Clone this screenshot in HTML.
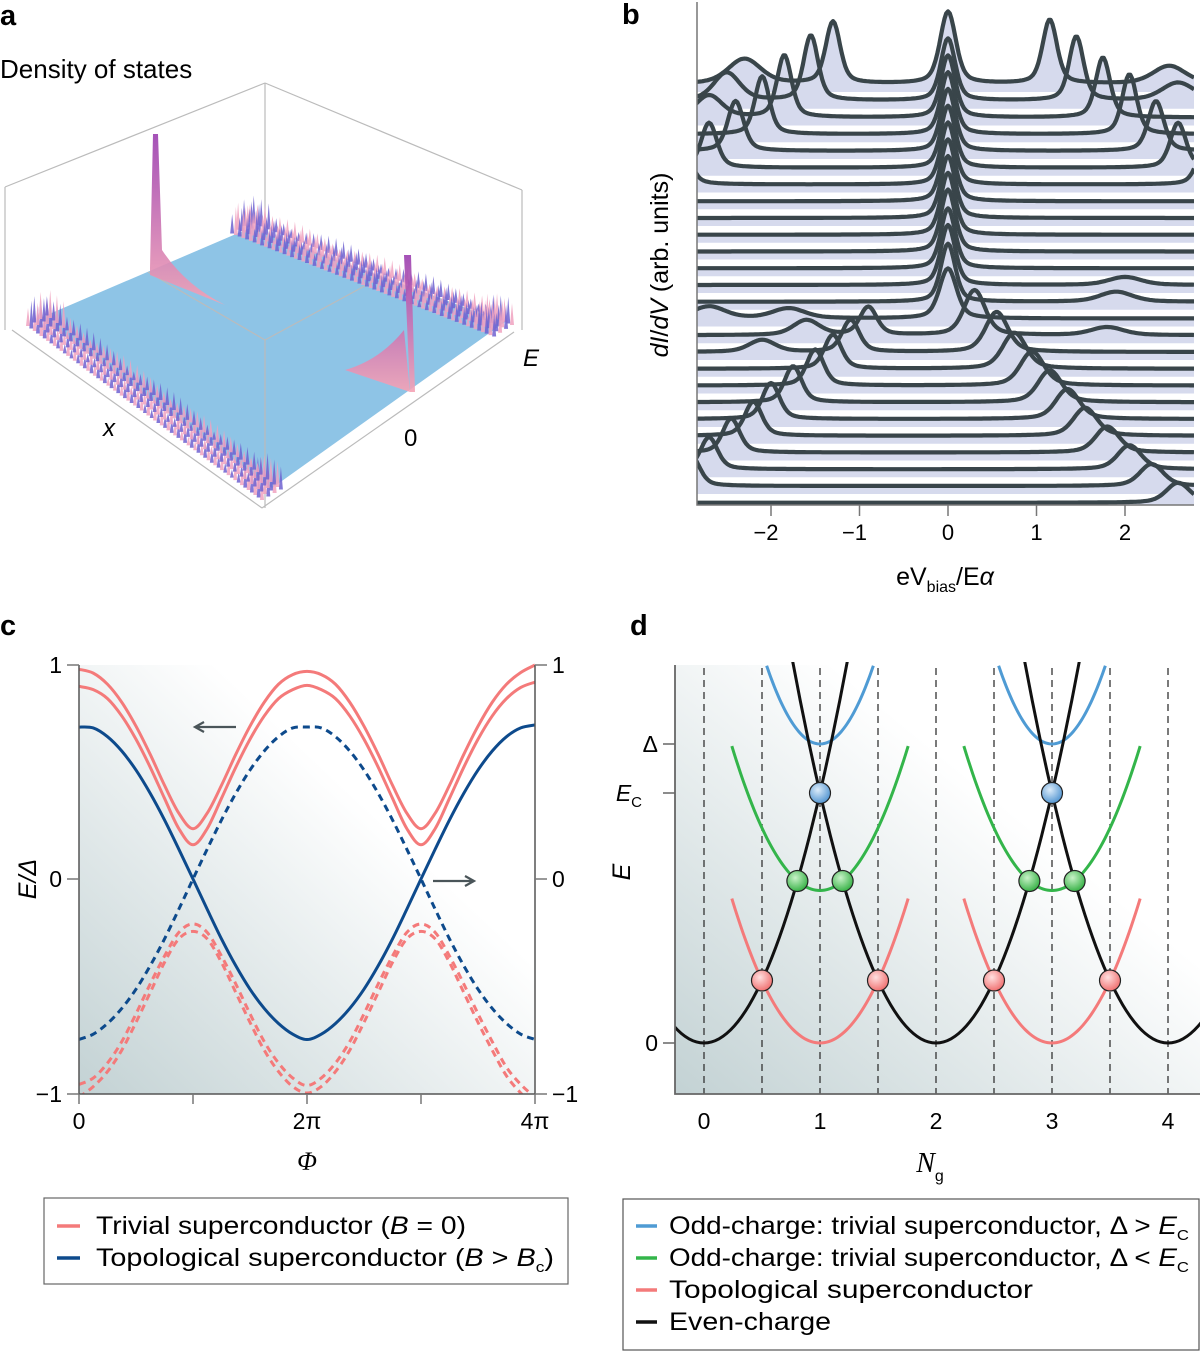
<!DOCTYPE html>
<html><head><meta charset="utf-8"><style>
html,body{margin:0;padding:0;background:#fff;}
svg{display:block;font-family:"Liberation Sans",sans-serif;}
</style></head><body>
<svg id="fig" width="1200" height="1351" viewBox="0 0 1200 1351" xmlns="http://www.w3.org/2000/svg">
<defs>
<linearGradient id="bgC" x1="0" y1="1" x2="1" y2="0">
<stop offset="0" stop-color="#c3d2d4"/><stop offset="0.65" stop-color="#ffffff"/></linearGradient>
<radialGradient id="gRed" cx="0.4" cy="0.35" r="0.7"><stop offset="0" stop-color="#ffe0e0"/><stop offset="1" stop-color="#f06a6a"/></radialGradient>
<radialGradient id="gGreen" cx="0.4" cy="0.35" r="0.7"><stop offset="0" stop-color="#c8f2c8"/><stop offset="1" stop-color="#2fae3f"/></radialGradient>
<radialGradient id="gBlue" cx="0.4" cy="0.35" r="0.7"><stop offset="0" stop-color="#dcecfa"/><stop offset="1" stop-color="#4a90cf"/></radialGradient>
<linearGradient id="spikeL" x1="0" y1="0" x2="0" y2="1"><stop offset="0" stop-color="#9b3fb0"/><stop offset="1" stop-color="#f5a3b5"/></linearGradient>
<clipPath id="clipB"><rect x="697" y="0" width="497" height="505"/></clipPath>
<clipPath id="clipC"><rect x="79" y="660" width="456" height="434"/></clipPath>
<clipPath id="clipD"><rect x="675" y="662" width="525" height="432"/></clipPath>
</defs>

<!-- Panel a -->
<text x="0" y="25" font-size="29" font-weight="bold">a</text>
<text x="0" y="78" font-size="26">Density of states</text>
<g id="panelA"></g>
<text x="103" y="436" font-size="24" font-style="italic">x</text>
<text x="404" y="446" font-size="24">0</text>
<text x="523" y="366" font-size="24" font-style="italic">E</text>

<!-- Panel b -->
<text x="622" y="24" font-size="29" font-weight="bold">b</text>
<g id="panelB"></g>
<text transform="translate(668,265) rotate(-90)" text-anchor="middle" font-size="25"><tspan font-style="italic">dI</tspan>/<tspan font-style="italic">dV</tspan> (arb. units)</text>
<text x="945" y="585" text-anchor="middle" font-size="25">eV<tspan font-size="16" dy="7">bias</tspan><tspan dy="-7">/E</tspan><tspan font-style="italic">α</tspan></text>

<!-- Panel c -->
<text x="0" y="635" font-size="29" font-weight="bold">c</text>
<g id="panelC"></g>
<text transform="translate(36,879) rotate(-90)" text-anchor="middle" font-size="25" font-style="italic">E/Δ</text>
<text x="307" y="1170" text-anchor="middle" font-size="26" font-style="italic" font-family="Liberation Serif, serif">Φ</text>

<!-- Panel d -->
<text x="630" y="635" font-size="29" font-weight="bold">d</text>
<g id="panelD"></g>
<text transform="translate(630,872) rotate(-90)" text-anchor="middle" font-size="25" font-style="italic">E</text>
<text x="930" y="1172" text-anchor="middle" font-size="28" font-style="italic" font-family="Liberation Serif, serif">N<tspan font-size="16" font-style="normal" font-family="Liberation Sans, sans-serif" dy="9">g</tspan></text>

<!-- Legend c -->
<g>
<rect x="44" y="1198" width="524" height="86" fill="#fff" stroke="#666" stroke-width="1.2"/>
<line x1="57" y1="1226" x2="80" y2="1226" stroke="#f47a7a" stroke-width="3.5"/>
<text x="96" y="1234" font-size="25" textLength="370" lengthAdjust="spacingAndGlyphs">Trivial superconductor (<tspan font-style="italic">B</tspan> = 0)</text>
<line x1="57" y1="1258" x2="80" y2="1258" stroke="#0d4a8c" stroke-width="3.5"/>
<text x="96" y="1266" font-size="25" textLength="458" lengthAdjust="spacingAndGlyphs">Topological superconductor (<tspan font-style="italic">B</tspan> &gt; <tspan font-style="italic">B</tspan><tspan font-size="15" dy="6">c</tspan><tspan dy="-6">)</tspan></text>
</g>

<!-- Legend d -->
<g>
<rect x="623" y="1199" width="576" height="151" fill="#fff" stroke="#555" stroke-width="1.2"/>
<line x1="636" y1="1226" x2="657" y2="1226" stroke="#4f9bd4" stroke-width="3.5"/>
<text x="669" y="1234" font-size="25" textLength="520" lengthAdjust="spacingAndGlyphs">Odd-charge: trivial superconductor, Δ &gt; <tspan font-style="italic">E</tspan><tspan font-size="15" dy="6">C</tspan></text>
<line x1="636" y1="1258" x2="657" y2="1258" stroke="#33b54a" stroke-width="3.5"/>
<text x="669" y="1266" font-size="25" textLength="520" lengthAdjust="spacingAndGlyphs">Odd-charge: trivial superconductor, Δ &lt; <tspan font-style="italic">E</tspan><tspan font-size="15" dy="6">C</tspan></text>
<line x1="636" y1="1290" x2="657" y2="1290" stroke="#f47a7a" stroke-width="3.5"/>
<text x="669" y="1298" font-size="25" textLength="364" lengthAdjust="spacingAndGlyphs">Topological superconductor</text>
<line x1="636" y1="1322" x2="657" y2="1322" stroke="#111" stroke-width="3.5"/>
<text x="669" y="1330" font-size="25" textLength="162" lengthAdjust="spacingAndGlyphs">Even-charge</text>
</g>
</svg>
<script>
// ---------- Panel b data ----------
const bRowsPos = [
 [-2.3,-1.3,0,1.15,2.5],[-2.5,-1.55,0,1.45,2.6],[-2.7,-1.85,0,1.75],[-2.1,0,2.05],[-2.4,0,2.35],[-2.7,0,2.6],[-3.0,0,2.9],
 [0],[0],[0],[0],[0],[0,2.0],[0,1.9],
 [-2.7,-1.8,0],[-1.6,-0.9,0.3,1.8],[-2.1,-1.1,0.55],[-1.3,0.75],[-1.5,0.95],[-1.75,1.15],[-2.0,1.35],[-2.2,1.55],[-2.45,1.8],[-2.7,2.05],[-2.9,2.3],[2.6]
];
const bRowsHeight = [
 [25,62,72,64,18],[28,65,62,64,18],[22,62,62,60],[58,62,60],[50,62,50],[45,62,45],[42,62,38],
 [62],[62],[62],[62],[60],[60,8],[58,10],
 [12,10,50],[15,28,45,8],[12,32,40],[34,36],[36,34],[36,32],[36,30],[34,28],[34,26],[32,24],[30,22],[20]
];
const bRowsWidth = [
 [0.25,0.11,0.12,0.11,0.25],[0.2,0.11,0.11,0.11,0.25],[0.2,0.11,0.11,0.11],[0.11,0.11,0.11],[0.12,0.11,0.12],[0.12,0.11,0.12],[0.12,0.11,0.12],
 [0.11],[0.11],[0.11],[0.11],[0.11],[0.11,0.25],[0.11,0.25],
 [0.25,0.25,0.13],[0.2,0.13,0.16,0.25],[0.2,0.13,0.17],[0.13,0.18],[0.13,0.18],[0.13,0.18],[0.13,0.18],[0.13,0.18],[0.13,0.18],[0.13,0.18],[0.13,0.18],[0.18]
];
const bTicks = [-2,-1,0,1,2];
const bTickLabels = ["−2","−1","0","1","2"];

// ---------- Panel c data (samples every π/8 from 0 to 4π) ----------
const cPhiSteps = [0,1,2,3,4,5,6,7,8,9,10,11,12,13,14,15,16,17,18,19,20,21,22,23,24,25,26,27,28,29,30,31,32];
const cRedOuter = [0.98,0.962,0.910,0.826,0.714,0.582,0.438,0.308,0.235,0.308,0.438,0.582,0.714,0.826,0.910,0.955,0.97,0.955,0.910,0.826,0.714,0.582,0.438,0.308,0.235,0.308,0.438,0.582,0.714,0.826,0.910,0.965,1.0];
const cRedInner = [0.90,0.885,0.843,0.762,0.653,0.522,0.377,0.236,0.16,0.236,0.377,0.522,0.653,0.762,0.843,0.885,0.905,0.885,0.843,0.762,0.653,0.522,0.377,0.236,0.16,0.236,0.377,0.522,0.653,0.762,0.843,0.895,0.92];
const cBlueSolid = [0.71,0.706,0.665,0.598,0.509,0.400,0.276,0.140,0,-0.142,-0.28,-0.405,-0.515,-0.605,-0.675,-0.725,-0.75,-0.725,-0.675,-0.605,-0.515,-0.405,-0.28,-0.142,0,0.140,0.276,0.400,0.509,0.598,0.665,0.706,0.72];
const cBlueDashed = [-0.75,-0.725,-0.675,-0.605,-0.515,-0.405,-0.28,-0.142,0,0.140,0.276,0.400,0.509,0.598,0.665,0.706,0.71,0.706,0.665,0.598,0.509,0.400,0.276,0.140,0,-0.142,-0.28,-0.405,-0.515,-0.605,-0.675,-0.725,-0.75];
const cRedDashUpper = [-0.96,-0.93,-0.86,-0.76,-0.63,-0.49,-0.36,-0.25,-0.21,-0.25,-0.36,-0.49,-0.63,-0.76,-0.86,-0.93,-0.965,-0.93,-0.86,-0.76,-0.63,-0.49,-0.36,-0.25,-0.21,-0.25,-0.36,-0.49,-0.63,-0.76,-0.88,-0.96,-1.02];
const cRedDashLower = [-1.02,-0.97,-0.9,-0.8,-0.67,-0.53,-0.39,-0.28,-0.245,-0.28,-0.39,-0.53,-0.67,-0.8,-0.9,-0.97,-1.0,-0.97,-0.9,-0.8,-0.67,-0.53,-0.39,-0.28,-0.245,-0.28,-0.39,-0.53,-0.67,-0.8,-0.92,-1.0,-1.06];
const cYTicks = [1,0,-1];
const cYTickLabels = ["1","0","−1"];
const cXTicks = [0,8,16,24,32];
const cXTickLabels = ["0","","2π","","4π"];

// ---------- Panel d data (energies in units of E_C) ----------
const dEvenCenters = [0,2,4];
const dOddCenters = [1,3];
const dCurv = 1.0;
const dBlueCurv = 1.48;
const dBlueMin = 1.196;
const dGreenMin = 0.61;
const dRedMin = 0;
const dHalfRange = 0.76;
const dBlueHalfRange = 0.46;
const dRedDots = [0.5,1.5,2.5,3.5];
const dGreenDots = [0.805,1.195,2.805,3.195];
const dBlueDots = [1,3];
const dVLines = [0,0.5,1,1.5,2,2.5,3,3.5,4];
const dXTicks = [0,1,2,3,4];
const dYTicks = [1.196,1,0];
const dYTickLabels = ["Δ","E","0"];

const NS = "http://www.w3.org/2000/svg";
function mk(parent, tag, attrs){ const e=document.createElementNS(NS,tag); for(const k in attrs) e.setAttribute(k,attrs[k]); parent.appendChild(e); return e; }
function smooth(pts){
  let d="M"+pts[0][0].toFixed(2)+","+pts[0][1].toFixed(2);
  for(let i=0;i<pts.length-1;i++){
    const p0=pts[Math.max(0,i-1)],p1=pts[i],p2=pts[i+1],p3=pts[Math.min(pts.length-1,i+2)];
    const c1=[p1[0]+(p2[0]-p0[0])/6,p1[1]+(p2[1]-p0[1])/6];
    const c2=[p2[0]-(p3[0]-p1[0])/6,p2[1]-(p3[1]-p1[1])/6];
    d+=" C"+c1[0].toFixed(2)+","+c1[1].toFixed(2)+" "+c2[0].toFixed(2)+","+c2[1].toFixed(2)+" "+p2[0].toFixed(2)+","+p2[1].toFixed(2);
  }
  return d;
}

// ---------- Panel a (decorative 3D) ----------
(function(){
  const g=document.getElementById('panelA');
  const ln=(x1,y1,x2,y2,nm)=>{const l=mk(g,'line',{x1,y1,x2,y2,stroke:'#bbb','stroke-width':1.2});
    
    };
  ln(5,187,265,83,'box-edge'); ln(265,83,522,190,'box-edge');
  ln(5,187,5,330,'box-edge'); ln(522,190,522,330,'box-edge'); ln(265,83,265,340,'box-edge');
  const floor=mk(g,'polygon',{points:'40,318 250,228 505,322 272,488',fill:'#8ec4e6'});
  
  
  ln(148,272,265,340,'box-edge'); ln(265,340,372,282,'box-edge'); ln(265,340,265,508,'box-edge');
  ln(12,330,262,508,'box-edge'); ln(262,508,514,332,'box-edge');
  const ridges=[[[28,326],[262,500],[0.9,-0.5]],[[250,222],[512,325],[-0.85,0.55]]];
  ridges.forEach((r,ri)=>{
    for(let row=0;row<4;row++){
      for(let i=0;i<=70;i++){
        const t=i/70;
        const bx=r[0][0]+(r[1][0]-r[0][0])*t+r[2][0]*row*7;
        const by=r[0][1]+(r[1][1]-r[0][1])*t+r[2][1]*row*7;
        const h=8+10*Math.abs(Math.sin(i*1.7+row))+(t<0.08||t>0.92?10:0);
        const p=mk(g,'polygon',{points:`${bx-2},${by} ${bx},${by-h} ${bx+2},${by}`,fill:(i+row)%2?'#6e62d0':'#f0a2bf',opacity:0.85});
        
        
      }
    }
  });
  const s1=mk(g,'path',{d:'M150,268 L153,134 L158,134 L162,250 Q185,285 225,305 L150,275 Z',fill:'url(#spikeL)',opacity:0.9});
  
  
  const s2=mk(g,'path',{d:'M410,392 L404,255 L411,255 L415,392 Z M404,330 Q380,360 345,370 L410,392 Z',fill:'url(#spikeL)',opacity:0.9});
  
  
})();

// ---------- Panel b ----------
(function(){
  const g=document.getElementById('panelB');
  const x0=948, sx=88.5, top=84, step=16.75;
  const xs=v=>x0+v*sx;
  const rowsG=mk(g,'g',{'clip-path':'url(#clipB)'});
  const fills=[], lines=[];
  bRowsPos.forEach((pos,r)=>{
    const base=top+r*step;
    const pts=[];
    for(let v=-2.86;v<=2.8;v+=0.02){
      let y=0;
      pos.forEach((p,k)=>{const w=bRowsWidth[r][k],h=bRowsHeight[r][k]; const z=(v-p)/w; y+=h*(0.6*Math.exp(-z*z)+0.4/(1+z*z));});
      pts.push([xs(v),base-y]);
    }
    fills.push({pts,base}); lines.push(pts);
  });
  fills.forEach((f,r)=>{
    let d="M"+f.pts.map(p=>p[0].toFixed(1)+","+p[1].toFixed(1)).join(" L")+` L${f.pts[f.pts.length-1][0]},${f.base+8} L${f.pts[0][0]},${f.base+8} Z`;
    const p=mk(rowsG,'path',{d,fill:'#d6daed'});
    
    
  });
  lines.forEach((pts,r)=>{
    const p=mk(rowsG,'path',{d:"M"+pts.map(p=>p[0].toFixed(1)+","+p[1].toFixed(1)).join(" L"),fill:'none',stroke:'#39454a','stroke-width':4.2,'stroke-linejoin':'round'});
    
    
  });
  const ax=mk(g,'path',{d:'M697,2 L697,505 L1194,505',fill:'none',stroke:'#777','stroke-width':1.5});
  
  
  bTicks.forEach((t,i)=>{
    const tk=mk(g,'line',{x1:xs(t),y1:505,x2:xs(t),y2:516,stroke:'#777','stroke-width':1.5});
    
    
    const tx=mk(g,'text',{x:xs(t)-(t<0?5:0),y:540,'text-anchor':'middle','font-size':22});
    tx.textContent=bTickLabels[i];
    
    
  });
})();

// ---------- Panel c ----------
(function(){
  const g=document.getElementById('panelC');
  const L=79,R=535,yc=879,sy=214;
  const xs=k=>L+k*(R-L)/32, ys=v=>yc-v*sy;
  const bg=mk(g,'rect',{x:L,y:665,width:R-L,height:429,fill:'url(#bgC)'});
  
  
  const cg=mk(g,'g',{'clip-path':'url(#clipC)'});
  const series=[[cRedOuter,'#f47a7a',null,'trivial-upper'],[cRedInner,'#f47a7a',null,'trivial-lower'],
    [cRedDashUpper,'#f47a7a','7 5','trivial-neg-upper'],[cRedDashLower,'#f47a7a','7 5','trivial-neg-lower'],
    [cBlueDashed,'#0d4a8c','7 5','topological-dashed'],[cBlueSolid,'#0d4a8c',null,'topological-solid']];
  series.forEach(s=>{
    const pts=cPhiSteps.map((k,i)=>[xs(k),ys(s[0][i])]);
    const a={d:smooth(pts),fill:'none',stroke:s[1],'stroke-width':3};
    if(s[2]) a['stroke-dasharray']=s[2];
    const p=mk(cg,'path',a);
    
    
  });
  const ax=mk(g,'path',{d:`M${L},665 L${L},1094 L${R},1094 L${R},665`,fill:'none',stroke:'#555','stroke-width':1.5});
  
  
  cYTicks.forEach((t,i)=>{
    const y=ys(t)+(t===-1?1:0);
    const a=mk(g,'line',{x1:L-12,y1:y,x2:L,y2:y,stroke:'#777','stroke-width':1.5});
    
    
    const b=mk(g,'line',{x1:R,y1:y,x2:R+12,y2:y,stroke:'#777','stroke-width':1.5});
    
    
    const t1=mk(g,'text',{x:L-17,y:y+8,'text-anchor':'end','font-size':23});
    t1.textContent=cYTickLabels[i];
    
    
    const t2=mk(g,'text',{x:R+17,y:y+8,'font-size':23});
    t2.textContent=cYTickLabels[i];
    
    
  });
  cXTicks.forEach((k,i)=>{
    const a=mk(g,'line',{x1:xs(k),y1:1094,x2:xs(k),y2:1104,stroke:'#777','stroke-width':1.5});
    
    
    if(cXTickLabels[i]){
      const t=mk(g,'text',{x:xs(k),y:1129,'text-anchor':'middle','font-size':23});
      t.textContent=cXTickLabels[i];
      
      
    }
  });
  const ar1=mk(g,'path',{d:'M236,727 L196,727 M204,722 L195,727 L204,732',fill:'none',stroke:'#4a5559','stroke-width':2.2});
  
  
  const ar2=mk(g,'path',{d:'M433,881 L473,881 M465,876 L474,881 L465,886',fill:'none',stroke:'#4a5559','stroke-width':2.2});
  
  
})();

// ---------- Panel d ----------
(function(){
  const g=document.getElementById('panelD');
  const x0=704, sx=116, y0=1043, sy=250;
  const xs=n=>x0+n*sx, ys=e=>y0-e*sy;
  const bg=mk(g,'rect',{x:675,y:665,width:525,height:429,fill:'url(#bgC)'});
  
  
  const cg=mk(g,'g',{'clip-path':'url(#clipD)'});
  dVLines.forEach(n=>{
    const l=mk(cg,'line',{x1:xs(n),y1:668,x2:xs(n),y2:1094,stroke:'#333','stroke-width':1.3,'stroke-dasharray':'7 5'});
    
    
  });
  const para=(c,emin,k,hr,color,nm)=>{
    const pts=[];
    for(let i=0;i<=40;i++){const n=c-hr+2*hr*i/40; pts.push([xs(n),ys(emin+k*(n-c)*(n-c))]);}
    const p=mk(cg,'path',{d:smooth(pts),fill:'none',stroke:color,'stroke-width':3});
    
    
  };
  dOddCenters.forEach(c=>{
    para(c,dRedMin,dCurv,dHalfRange,'#f47a7a','topological-parabola');
    para(c,dGreenMin,dCurv,dHalfRange,'#33b54a','odd-small-gap-parabola');
    para(c,dBlueMin,dBlueCurv,dBlueHalfRange,'#4f9bd4','odd-big-gap-parabola');
  });
  dEvenCenters.forEach(c=>para(c,0,dCurv,1.3,'#111','even-charge-parabola'));
  const dot=(n,e,fill,nm)=>{
    const c=mk(g,'circle',{cx:xs(n),cy:ys(e),r:10.5,fill,stroke:'#222','stroke-width':1.2});
    
    
  };
  dRedDots.forEach(n=>dot(n,dCurv*0.25,'url(#gRed)','degeneracy-point-topological'));
  dGreenDots.forEach(n=>{const near=Math.round(n/2)*2; dot(n,dCurv*(n-near)*(n-near),'url(#gGreen)','degeneracy-point-small-gap');});
  dBlueDots.forEach(n=>dot(n,dCurv,'url(#gBlue)','degeneracy-point-big-gap'));
  const ax=mk(g,'path',{d:'M675,665 L675,1094 L1200,1094',fill:'none',stroke:'#666','stroke-width':1.8});
  
  
  dXTicks.forEach(n=>{
    const t=mk(g,'text',{x:xs(n),y:1129,'text-anchor':'middle','font-size':23});
    t.textContent=String(n);
    
    
  });
  dYTicks.forEach((e,i)=>{
    const l=mk(g,'line',{x1:663,y1:ys(e),x2:675,y2:ys(e),stroke:'#666','stroke-width':1.5});
    
    
    const t=mk(g,'text',{x:658,y:ys(e)+8,'text-anchor':'end','font-size':23});
    t.textContent=dYTickLabels[i];
    if(dYTickLabels[i]==='E'){
      t.setAttribute('font-style','italic');
      t.setAttribute('x',642);
      const s=mk(t,'tspan',{'font-size':15,'font-style':'normal',dy:6});
      s.textContent='C';
    }
    
    
  });
})();
</script>
</body></html>
